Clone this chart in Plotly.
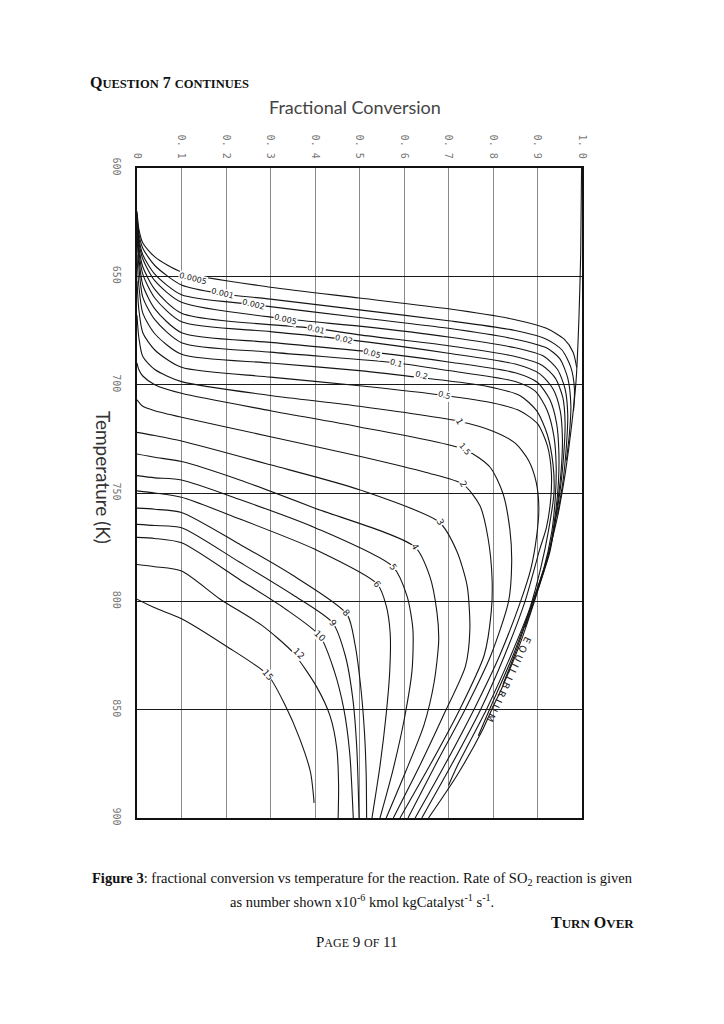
import plotly.graph_objects as go

# equilibrium line (fractional conversion vs temperature K)
eq_conv = [0.999, 0.997, 0.993, 0.989, 0.986, 0.976, 0.963, 0.955, 0.946, 0.922, 0.893, 0.86, 0.82, 0.797, 0.775, 0.72, 0.655]
eq_temp = [600, 640, 670, 690, 700, 720, 740, 750, 760, 780, 800, 820, 840, 850, 860, 880, 900]

# rate contours
x_0_0005 = [0, 0.004, 0.013, 0.04, 0.1, 0.3, 0.5, 0.7, 0.85, 0.92, 0.96, 0.98, 0.988]
T_0_0005 = [620, 628, 634.6, 641, 648, 655, 660, 665, 670, 674, 679, 685, 692]

x_0_001 = [0, 0.004, 0.013, 0.04, 0.1, 0.19, 0.3, 0.5, 0.7, 0.85, 0.92, 0.955, 0.975, 0.983, 0.981]
T_0_001 = [621, 630, 637, 645, 654, 658, 660.5, 665.5, 670.5, 675, 679, 684, 692, 702, 712]

x_0_002 = [0, 0.004, 0.013, 0.04, 0.1, 0.26, 0.5, 0.7, 0.85, 0.92, 0.95, 0.968, 0.975, 0.972, 0.965]
T_0_002 = [622, 632, 640, 649, 658.5, 663, 669, 674, 679, 683, 688, 697, 710, 722, 735]

x_0_005 = [0, 0.004, 0.013, 0.04, 0.1, 0.333, 0.5, 0.7, 0.85, 0.915, 0.945, 0.962, 0.968, 0.965, 0.957, 0.945]
T_0_005 = [623, 634, 642, 652, 662, 669.6, 673, 678, 683, 687, 693, 702, 714, 728, 745, 760]

x_0_01 = [0, 0.004, 0.013, 0.04, 0.1, 0.4, 0.5, 0.7, 0.85, 0.91, 0.94, 0.957, 0.962, 0.959, 0.95, 0.929, 0.908]
T_0_01 = [624, 636, 645.6, 656, 667, 674, 677, 682, 687, 691, 697, 706, 718, 732, 750, 775, 790]

x_0_02 = [0, 0.004, 0.013, 0.04, 0.1, 0.3, 0.465, 0.7, 0.85, 0.905, 0.935, 0.951, 0.956, 0.953, 0.943, 0.928, 0.892, 0.872]
T_0_02 = [625, 638, 649, 660, 671, 675.5, 679, 685.5, 690.5, 695, 702, 712, 725, 740, 758, 777, 800, 812]

x_0_05 = [0, 0.004, 0.013, 0.04, 0.1, 0.3, 0.528, 0.7, 0.85, 0.9, 0.928, 0.943, 0.948, 0.947, 0.94, 0.926, 0.89, 0.848, 0.823]
T_0_05 = [627, 641, 654, 665, 676, 680.5, 685, 689.5, 694.5, 699, 707, 718, 731, 745, 760, 777, 800, 825, 838]

x_0_1 = [0, 0.004, 0.013, 0.04, 0.1, 0.3, 0.584, 0.7, 0.85, 0.895, 0.922, 0.937, 0.942, 0.94, 0.932, 0.914, 0.886, 0.845, 0.792, 0.767]
T_0_1 = [630, 645, 659.6, 670, 680.6, 685, 690, 693.5, 698.5, 703, 712, 724, 738, 752, 768, 785, 802, 825, 850, 862]

x_0_2 = [0, 0.004, 0.013, 0.04, 0.1, 0.3, 0.5, 0.64, 0.78, 0.86, 0.898, 0.922, 0.935, 0.937, 0.925, 0.908, 0.883, 0.838, 0.785, 0.722, 0.70]
T_0_2 = [640, 654, 667, 676.5, 686, 690, 693.5, 696.8, 700.5, 705, 712, 723, 737, 750, 767, 784, 803, 826, 850, 875, 885]

x_0_5 = [0, 0.004, 0.013, 0.04, 0.1, 0.3, 0.5, 0.692, 0.8, 0.86, 0.9, 0.922, 0.931, 0.93, 0.92, 0.905, 0.872, 0.826, 0.772, 0.708, 0.64]
T_0_5 = [652, 665, 676, 684, 692, 696.5, 700.5, 705, 708.5, 712, 718, 728, 740, 752, 766, 776, 800, 825, 850, 875, 900]

x_1 = [0, 0.004, 0.013, 0.04, 0.1, 0.3, 0.5, 0.726, 0.8, 0.85, 0.88, 0.897, 0.903, 0.898, 0.885, 0.862, 0.815, 0.757, 0.693, 0.625]
T_1 = [668, 678, 687, 693, 698.6, 705, 710, 717, 721.5, 727, 735, 745, 757, 770, 785, 800, 825, 850, 875, 900]

x_1_5 = [0, 0.004, 0.013, 0.04, 0.1, 0.3, 0.5, 0.737, 0.793, 0.822, 0.838, 0.842, 0.835, 0.795, 0.737, 0.672, 0.609]
T_1_5 = [690, 693, 696, 700, 704, 712, 719.5, 730, 738, 750, 767, 782, 800, 825, 850, 875, 900]

x_2 = [0, 0.013, 0.04, 0.1, 0.3, 0.5, 0.65, 0.733, 0.771, 0.789, 0.798, 0.796, 0.78, 0.725, 0.66, 0.591]
T_2 = [707, 710, 712, 715, 724, 733, 740.5, 746, 756, 771, 790, 805, 825, 850, 875, 900]

x_3 = [0, 0.04, 0.1, 0.3, 0.5, 0.68, 0.719, 0.742, 0.748, 0.738, 0.69, 0.635, 0.576]
T_3 = [722, 723.5, 726, 737, 748.5, 763.6, 777, 793, 813, 830, 852, 876, 900]

x_4 = [0, 0.04, 0.1, 0.231, 0.4, 0.625, 0.658, 0.674, 0.678, 0.668, 0.645, 0.605, 0.56]
T_4 = [732, 733.5, 735.5, 744, 757, 775, 788.5, 805, 818, 837, 857, 878, 900]

x_5 = [0, 0.04, 0.1, 0.231, 0.4, 0.575, 0.607, 0.62, 0.618, 0.6, 0.575, 0.546]
T_5 = [742, 743, 744, 753, 766, 784, 797.7, 813, 832, 855, 878, 900]

x_6 = [0, 0.04, 0.1, 0.231, 0.4, 0.54, 0.56, 0.569, 0.568, 0.56, 0.546, 0.528]
T_6 = [749, 750, 752, 762, 776, 792, 802, 815, 832, 852, 876, 900]

x_8 = [0, 0.04, 0.1, 0.231, 0.35, 0.472, 0.49, 0.503, 0.511, 0.515, 0.516]
T_8 = [757, 757.5, 759, 773.7, 788, 806, 820, 840, 860, 880, 900]

x_9 = [0, 0.04, 0.1, 0.231, 0.35, 0.44, 0.468, 0.485, 0.494, 0.499]
T_9 = [764.5, 765, 766, 782, 797, 810, 825, 845, 868, 900]

x_10 = [0, 0.04, 0.1, 0.231, 0.33, 0.411, 0.443, 0.465, 0.478, 0.486]
T_10 = [770.5, 771, 773, 790, 803, 816, 832, 850, 870, 900]

x_12 = [0, 0.04, 0.1, 0.187, 0.28, 0.35, 0.404, 0.434, 0.449, 0.453, 0.452]
T_12 = [783, 784, 786, 799, 811, 823.5, 839.6, 853, 868, 885, 900]

x_15 = [0, 0.04, 0.1, 0.2, 0.294, 0.333, 0.366, 0.39, 0.398]
T_15 = [799, 803, 808, 820.6, 834, 848, 863.6, 879, 893]

rate_labels = ["0.0005", "0.001", "0.002", "0.005", "0.01", "0.02", "0.05", "0.1", "0.2", "0.5",
               "1", "1.5", "2", "3", "4", "5", "6", "8", "9", "10", "12", "15"]
label_conv = [0.125, 0.191, 0.261, 0.333, 0.402, 0.465, 0.528, 0.584, 0.64, 0.692,
              0.726, 0.737, 0.733, 0.681, 0.625, 0.575, 0.539, 0.47, 0.44, 0.411, 0.362, 0.294]
label_temp = [651, 658, 663.1, 669.8, 674.6, 679, 685.7, 690, 695.9, 705,
              717, 730, 746, 763.6, 775, 784.3, 792.2, 805.5, 810, 816, 824, 834]

conv_ticks = [0, 0.1, 0.2, 0.3, 0.4, 0.5, 0.6, 0.7, 0.8, 0.9, 1.0]
conv_tick_text = ["0", "0. 1", "0. 2", "0. 3", "0. 4", "0. 5", "0. 6", "0. 7", "0. 8", "0. 9", "1. 0"]
temp_ticks = [600, 650, 700, 750, 800, 850, 900]
temp_tick_text = ["600", "650", "700", "750", "800", "850", "900"]

curves = [
    (x_0_0005, T_0_0005), (x_0_001, T_0_001), (x_0_002, T_0_002), (x_0_005, T_0_005),
    (x_0_01, T_0_01), (x_0_02, T_0_02), (x_0_05, T_0_05), (x_0_1, T_0_1), (x_0_2, T_0_2),
    (x_0_5, T_0_5), (x_1, T_1), (x_1_5, T_1_5), (x_2, T_2), (x_3, T_3), (x_4, T_4),
    (x_5, T_5), (x_6, T_6), (x_8, T_8), (x_9, T_9), (x_10, T_10), (x_12, T_12), (x_15, T_15),
]

fig = go.Figure()

fig.add_trace(go.Scatter(
    x=eq_conv, y=eq_temp, mode='lines',
    line=dict(color='#151515', width=1.1, shape='spline', smoothing=0.7),
    hoverinfo='skip', showlegend=False,
))
for xs, ts in curves:
    fig.add_trace(go.Scatter(
        x=xs, y=ts, mode='lines',
        line=dict(color='#151515', width=1.1, shape='spline', smoothing=0.7),
        hoverinfo='skip', showlegend=False,
    ))

# labels sit on the curves and break them (white box)
label_angles = [14, 14, 14, 14, 14, 14, 15, 15, 16, 18,
                60, 50, 60, 60, 60, 55, 55, 50, 50, 45, 45, 50]
for txt, lx, lt, ang in zip(rate_labels, label_conv, label_temp, label_angles):
    fig.add_annotation(
        x=lx, y=lt, xref='x', yref='y', text=txt, showarrow=False,
        textangle=ang, bgcolor='white', borderpad=0,
        xanchor='center', yanchor='middle',
        font=dict(family='DejaVu Sans', size=8 if len(txt) > 2 else 9, color='#222'),
    )

fig.add_annotation(
    x=0.836, y=836, xref='x', yref='y', text='E Q U I L I B R I U M', showarrow=False,
    textangle=115, xanchor='center', yanchor='middle',
    font=dict(family='DejaVu Sans', size=9.5, color='#222'),
)


def pp(px, py):
    # page pixel -> paper coords of the plot area (137..582, 168..818)
    return (px - 137) / 445, (818 - py) / 650


page_text = [
    (pp(88, 82), 'left',
     "<b>Q<span style='font-size:12.5px'>UESTION</span> 7 <span style='font-size:12.5px'>CONTINUES</span></b>", 16),
    (pp(362, 879), 'center',
     "<b>Figure 3</b>: fractional conversion vs temperature for the reaction. Rate of SO<sub>2</sub> reaction is given", 14.5),
    (pp(362, 901), 'center',
     "as number shown x10<sup>-6</sup> kmol kgCatalyst<sup>-1</sup> s<sup>-1</sup>.", 14.5),
    (pp(636, 922), 'right',
     "<b>T<span style='font-size:13px'>URN</span> O<span style='font-size:13px'>VER</span></b>", 16),
    (pp(357, 942), 'center',
     "P<span style='font-size:12px'>AGE</span> 9 <span style='font-size:12px'>OF</span> 11", 15),
]
for (ax, ay), anchor, txt, size in page_text:
    fig.add_annotation(
        x=ax, y=ay, xref='paper', yref='paper', text=txt, showarrow=False,
        xanchor=anchor, yanchor='middle',
        font=dict(family='Liberation Serif', size=size, color='#111'),
    )

tx, ty = pp(355, 107)
fig.add_annotation(x=tx, y=ty, xref='paper', yref='paper', text='Fractional Conversion',
                   showarrow=False, xanchor='center', yanchor='middle',
                   font=dict(family='Lato', size=18, color='#444'))
tx, ty = pp(104, 477)
fig.add_annotation(x=tx, y=ty, xref='paper', yref='paper', text='Temperature (K)',
                   showarrow=False, textangle=90, xanchor='center', yanchor='middle',
                   font=dict(family='Lato', size=19, color='#333'))

# page body has an 8px margin, so the figure is shifted in by that much
fig.update_layout(
    width=716, height=1016, autosize=False,
    margin=dict(l=129, r=142, t=160, b=206, pad=0),
    paper_bgcolor='white', plot_bgcolor='white',
    showlegend=False,
)
fig.update_xaxes(
    range=[0, 1], side='top', tickvals=conv_ticks, ticktext=conv_tick_text,
    tickangle=90, ticks='', ticklabelstandoff=4,
    tickfont=dict(family='DejaVu Sans Mono', size=10, color='#777'),
    showgrid=True, gridcolor='#8a8a8a', gridwidth=1,
    showline=True, mirror=True, linecolor='#111', linewidth=1.6, zeroline=False,
)
fig.update_yaxes(
    range=[900, 600], tickvals=temp_ticks, ticktext=temp_tick_text,
    tickangle=90, ticks='', ticklabelstandoff=10,
    tickfont=dict(family='DejaVu Sans Mono', size=10, color='#777'),
    showgrid=True, gridcolor='#1a1a1a', gridwidth=1.2,
    showline=True, mirror=True, linecolor='#111', linewidth=1.6, zeroline=False,
)

fig.write_html("out.html")
